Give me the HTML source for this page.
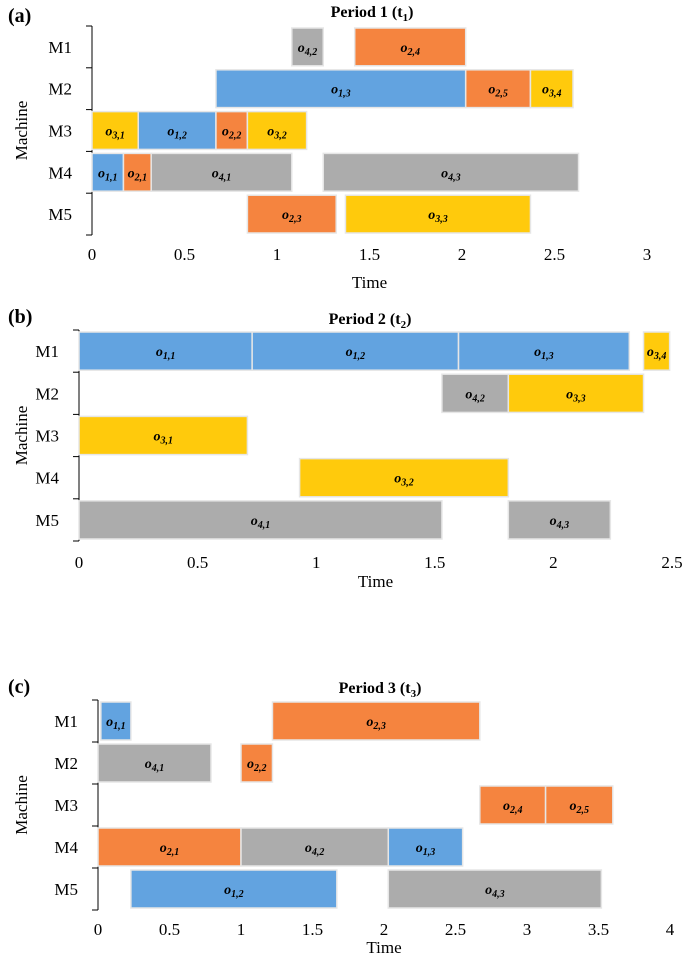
<!DOCTYPE html>
<html><head><meta charset="utf-8"><style>
body{margin:0;background:#fff}
svg{display:block;font-family:"Liberation Serif",serif}
</style></head><body>
<svg id="chart" width="685" height="968" viewBox="0 0 685 968"></svg>
<script>
const machines=["M1","M2","M3","M4","M5"];
const colors={b:"#62a3e0",o:"#f5843f",g:"#acacac",y:"#ffca0c"};
const opsA=[[0,1.08,1.25,"g","4,2"],[0,1.42,2.02,"o","2,4"],
[1,0.67,2.02,"b","1,3"],[1,2.02,2.37,"o","2,5"],[1,2.37,2.6,"y","3,4"],
[2,0,0.25,"y","3,1"],[2,0.25,0.67,"b","1,2"],[2,0.67,0.84,"o","2,2"],[2,0.84,1.16,"y","3,2"],
[3,0,0.17,"b","1,1"],[3,0.17,0.32,"o","2,1"],[3,0.32,1.08,"g","4,1"],[3,1.25,2.63,"g","4,3"],
[4,0.84,1.32,"o","2,3"],[4,1.37,2.37,"y","3,3"]];
const opsB=[[0,0,0.73,"b","1,1"],[0,0.73,1.6,"b","1,2"],[0,1.6,2.32,"b","1,3"],[0,2.38,2.49,"y","3,4"],
[1,1.53,1.81,"g","4,2"],[1,1.81,2.38,"y","3,3"],
[2,0,0.71,"y","3,1"],
[3,0.93,1.81,"y","3,2"],
[4,0,1.53,"g","4,1"],[4,1.81,2.24,"g","4,3"]];
const opsC=[[0,0.02,0.23,"b","1,1"],[0,1.22,2.67,"o","2,3"],
[1,0,0.79,"g","4,1"],[1,1.0,1.22,"o","2,2"],
[2,2.67,3.13,"o","2,4"],[2,3.13,3.6,"o","2,5"],
[3,0,1.0,"o","2,1"],[3,1.0,2.03,"g","4,2"],[3,2.03,2.55,"b","1,3"],
[4,0.23,1.67,"b","1,2"],[4,2.03,3.52,"g","4,3"]];
const ticksA=["0","0.5","1","1.5","2","2.5","3"];
const ticksB=["0","0.5","1","1.5","2","2.5"];
const ticksC=["0","0.5","1","1.5","2","2.5","3","3.5","4"];
const panels=[
{id:"a",ops:opsA,ticks:ticksA,tick:0.5,x0:92,x1:647,max:3,top:26,bottom:235,title:"Period 1 (t",sub:"1",tx:372,ty:17,lx:8,ly:22,tly:260,timey:288},
{id:"b",ops:opsB,ticks:ticksB,tick:0.5,x0:79,x1:672,max:2.5,top:330,bottom:541,title:"Period 2 (t",sub:"2",tx:370,ty:324,lx:8,ly:323,tly:568,timey:587},
{id:"c",ops:opsC,ticks:ticksC,tick:0.5,x0:98,x1:670,max:4,top:700,bottom:910,title:"Period 3 (t",sub:"3",tx:380,ty:693,lx:8,ly:693,tly:935,timey:953}];
const NS="http://www.w3.org/2000/svg";
const svg=document.getElementById("chart");
function mk(tag,attrs,parent){const e=document.createElementNS(NS,tag);for(const k in attrs)e.setAttribute(k,attrs[k]);(parent||svg).appendChild(e);return e;}
panels.forEach(p=>{
  const g=mk("g",{});
  
  
  const xs=v=>p.x0+(p.x1-p.x0)*v/p.max;
  const rh=(p.bottom-p.top)/5;
  const ys=i=>p.top+rh*i;
  const pl=mk("text",{x:p.lx,y:p.ly,"font-size":20,"font-weight":"bold"},g);pl.textContent="("+p.id+")";
  
  
  const t=mk("text",{x:p.tx,y:p.ty,"font-size":16,"font-weight":"bold","text-anchor":"middle"},g);
  
  
  t.appendChild(document.createTextNode(p.title));
  const ts=mk("tspan",{"font-size":11,dy:4},t);ts.textContent=p.sub;
  const ts2=mk("tspan",{dy:-4},t);ts2.textContent=")";
  mk("line",{x1:p.x0,y1:p.top,x2:p.x0,y2:p.bottom,stroke:"#000","stroke-width":1},g);
  for(let i=0;i<=5;i++)mk("line",{x1:p.x0-6,y1:ys(i),x2:p.x0,y2:ys(i),stroke:"#000"},g);
  machines.forEach((m,i)=>{const e=mk("text",{x:p.x0-20,y:ys(i)+rh/2+6,"font-size":17,"text-anchor":"end"},g);e.textContent=m;
    
    });
  const yl=mk("text",{transform:`translate(27,${(p.top+p.bottom)/2}) rotate(-90)`,"font-size":17,"text-anchor":"middle"},g);yl.textContent="Machine";
  
  
  p.ticks.forEach((tk,i)=>{const e=mk("text",{x:xs(i*p.tick),y:p.tly,"font-size":17,"text-anchor":"middle"},g);e.textContent=tk;
    
    });
  const xl=mk("text",{x:(p.x0+p.x1)/2,y:p.timey,"font-size":17,"text-anchor":"middle"},g);xl.textContent="Time";
  
  
  p.ops.forEach(o=>{
    const x=xs(o[1]),w=xs(o[2])-x,y=ys(o[0])+2,h=rh-4;
    const r=mk("rect",{x:x,y:y,width:w,height:h,fill:colors[o[3]],stroke:"#e6e6e6","stroke-width":1.5},g);
    
    
    const tx=mk("text",{x:x+w/2,y:y+h/2+5,"font-size":14,"font-weight":"bold","font-style":"italic","text-anchor":"middle"},g);
    
    
    tx.appendChild(document.createTextNode("o"));
    const s=mk("tspan",{"font-size":10,dy:3},tx);s.textContent=o[4];
  });
});
</script>
</body></html>
